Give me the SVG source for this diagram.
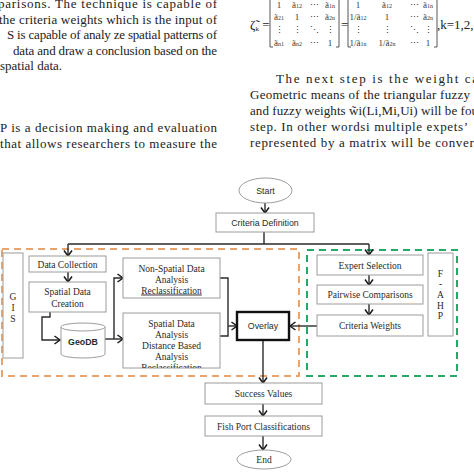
<svg xmlns="http://www.w3.org/2000/svg" width="474" height="474" viewBox="0 0 474 474">
<style>
.p{font-family:"Liberation Serif",serif;font-size:13px;fill:#222}
.m{font-family:"Liberation Serif",serif;font-size:9px;fill:#333;text-anchor:middle}
.sub{font-size:6px}
.br{fill:none;stroke:#444;stroke-width:0.9}
.box{fill:#fff;stroke:#9c9c9c;stroke-width:1}
.t{font-family:"Liberation Serif",serif;font-size:9.5px;fill:#2a2a2a;text-anchor:middle}
.s{font-family:"Liberation Sans",Arial,sans-serif;font-size:8.8px;fill:#2a2a2a;text-anchor:middle}
.conn{fill:none;stroke:#2b2b2b;stroke-width:1.4}
.og{fill:none;stroke:#eba36c;stroke-width:2;stroke-dasharray:7 5}
.gr{fill:none;stroke:#26a866;stroke-width:2;stroke-dasharray:7 5}
</style>
<defs>
<marker id="arr" markerUnits="userSpaceOnUse" markerWidth="12" markerHeight="12" refX="0" refY="0" viewBox="-7 -6 8 12" orient="auto">
<path d="M-5.5,-4 L0,0 L-5.5,4" fill="none" stroke="#1a1a1a" stroke-width="1.5"/>
</marker>
<clipPath id="clipSpatial"><rect x="123" y="313" width="97" height="55"/></clipPath>
</defs>
<rect width="474" height="474" fill="#fff"/>

<g id="paper-text">
<text class="p" x="-2" y="8" textLength="219" lengthAdjust="spacing">parisons. The technique is capable of</text>
<text class="p" x="-1" y="23.5" textLength="218" lengthAdjust="spacing">the criteria weights which is the input of</text>
<text class="p" x="7" y="39" textLength="210" lengthAdjust="spacing">S is capable of analy ze spatial patterns of</text>
<text class="p" x="13" y="54.5" textLength="204" lengthAdjust="spacing">data and draw a conclusion based on the</text>
<text class="p" x="0" y="70">spatial data.</text>
<text class="p" x="0" y="132" textLength="217" lengthAdjust="spacing">P is a decision making and evaluation</text>
<text class="p" x="0" y="147.5" textLength="217" lengthAdjust="spacing">that allows researchers to measure the</text>
<text class="p" x="276" y="83" textLength="202" lengthAdjust="spacing">The next step is the weight ca</text>
<text class="p" x="250" y="99" textLength="220" lengthAdjust="spacing">Geometric means of the triangular fuzzy</text>
<text class="p" x="250" y="115" textLength="228" lengthAdjust="spacing">and fuzzy weights w̃i(Li,Mi,Ui) will be fou</text>
<text class="p" x="250" y="131" textLength="218" lengthAdjust="spacing">step. In other wordsi multiple expets’</text>
<text class="p" x="250" y="147" textLength="228" lengthAdjust="spacing">represented by a matrix will be convert</text>
</g>

<g id="matrix">
<text class="p" x="250" y="29" font-size="11">ζ̃<tspan font-size="7" dy="2">k</tspan><tspan dy="-2"> =</tspan></text>
<path class="br" d="M273,-4 H270 V47 H273 M336,-4 H339 V47 H336"/>
<text class="m" x="279" y="8">1</text>
<text class="m" x="297" y="8">ã<tspan class="sub">12</tspan></text>
<text class="m" x="314" y="8">⋯</text>
<text class="m" x="330" y="8">ã<tspan class="sub">1n</tspan></text>
<text class="m" x="279" y="20">ã<tspan class="sub">21</tspan></text>
<text class="m" x="297" y="20">1</text>
<text class="m" x="314" y="20">⋯</text>
<text class="m" x="330" y="20">ã<tspan class="sub">2n</tspan></text>
<text class="m" x="279" y="33">⋮</text>
<text class="m" x="297" y="33">⋮</text>
<text class="m" x="314" y="33">⋱</text>
<text class="m" x="330" y="33">⋮</text>
<text class="m" x="279" y="46">ã<tspan class="sub">n1</tspan></text>
<text class="m" x="297" y="46">ã<tspan class="sub">n2</tspan></text>
<text class="m" x="314" y="46">⋯</text>
<text class="m" x="330" y="46">1</text>
<text class="p" x="341" y="29" font-size="11">=</text>
<path class="br" d="M351,-4 H348 V47 H351 M434,-4 H437 V47 H434" stroke="#4a5a80"/>
<text class="m" x="358" y="8">1</text>
<text class="m" x="387" y="8">ã<tspan class="sub">12</tspan></text>
<text class="m" x="414" y="8">⋯</text>
<text class="m" x="428" y="8">ã<tspan class="sub">1n</tspan></text>
<text class="m" x="358" y="20">1/ã<tspan class="sub">12</tspan></text>
<text class="m" x="387" y="20">1</text>
<text class="m" x="414" y="20">⋯</text>
<text class="m" x="428" y="20">ã<tspan class="sub">2n</tspan></text>
<text class="m" x="358" y="33">⋮</text>
<text class="m" x="387" y="33">⋮</text>
<text class="m" x="414" y="33">⋱</text>
<text class="m" x="428" y="33">⋮</text>
<text class="m" x="358" y="46">1/ã<tspan class="sub">1n</tspan></text>
<text class="m" x="387" y="46">1/ã<tspan class="sub">2n</tspan></text>
<text class="m" x="414" y="46">⋯</text>
<text class="m" x="428" y="46">1</text>
<text class="p" x="437" y="29" font-size="11">,k=1,2,..</text>
</g>

<g id="groups">
<rect id="gis-group" class="og" x="2" y="249" width="297" height="127"/>
<rect id="fahp-group" class="gr" x="307" y="250" width="150" height="126"/>
</g>

<g id="connectors">
<path class="conn" d="M265,203 V213" marker-end="url(#arr)"/>
<path class="conn" d="M264,232 V244 M68,244 H369"/>
<path class="conn" d="M68,244 V256" marker-end="url(#arr)"/>
<path class="conn" d="M369,244 V255" marker-end="url(#arr)"/>
<path class="conn" d="M68,272 V282" marker-end="url(#arr)"/>
<path class="conn" d="M50,312 V317 H42 V340 H60" marker-end="url(#arr)"/>
<path class="conn" d="M105,339 H123" marker-end="url(#arr)"/>
<path class="conn" d="M114,339 V278 H123" marker-end="url(#arr)"/>
<path class="conn" d="M220,278 H228 V336 H220"/>
<path class="conn" d="M228,326 H237" marker-end="url(#arr)"/>
<path class="conn" d="M317,326 H290" marker-end="url(#arr)"/>
<path class="conn" d="M263,340 V383" marker-end="url(#arr)"/>
<path class="conn" d="M369,275 V285" marker-end="url(#arr)"/>
<path class="conn" d="M369,304 V315" marker-end="url(#arr)"/>
<path class="conn" d="M263,404 V416" marker-end="url(#arr)"/>
<path class="conn" d="M263,436 V450" marker-end="url(#arr)"/>
</g>

<g id="start">
<ellipse class="box" cx="265.5" cy="190.5" rx="26.5" ry="12.5"/>
<text class="s" x="265.5" y="193.5" font-size="8.2">Start</text>
</g>
<g id="criteria-definition">
<rect class="box" x="216" y="213" width="98" height="19"/>
<text class="s" x="265" y="225.5" font-size="9.2">Criteria Definition</text>
</g>
<g id="gis-label">
<rect class="box" x="3" y="253" width="20" height="105"/>
<text class="t" x="13" y="299.5" font-size="10">G</text>
<text class="t" x="13" y="310.5" font-size="10">I</text>
<text class="t" x="13" y="321.5" font-size="10">S</text>
</g>
<g id="data-collection">
<rect class="box" x="29" y="256" width="77" height="16"/>
<text class="t" x="67.5" y="267.5">Data Collection</text>
</g>
<g id="spatial-data-creation">
<rect class="box" x="29" y="282" width="77" height="30"/>
<text class="t" x="67.5" y="295">Spatial Data</text>
<text class="t" x="67.5" y="306.5">Creation</text>
</g>
<g id="geodb">
<path class="box" d="M61,327 V354 A22,4 0 0 0 105,354 V327"/>
<ellipse class="box" cx="83" cy="327" rx="22" ry="4"/>
<text class="s" x="83" y="345" font-size="8.6" font-weight="bold" fill="#333">GeoDB</text>
</g>
<g id="non-spatial-analysis">
<rect class="box" x="123" y="258" width="97" height="40"/>
<text class="t" x="171.5" y="271.5">Non-Spatial Data</text>
<text class="t" x="171.5" y="282.5">Analysis</text>
<text class="t" x="171.5" y="293.5" text-decoration="underline">Reclassification</text>
</g>
<g id="spatial-analysis">
<rect class="box" x="123" y="313" width="97" height="55"/>
<g clip-path="url(#clipSpatial)">
<text class="t" x="171.5" y="326.5">Spatial Data</text>
<text class="t" x="171.5" y="337.5">Analysis</text>
<text class="t" x="171.5" y="348.5">Distance Based</text>
<text class="t" x="171.5" y="359.5">Analysis</text>
<text class="t" x="171.5" y="370.5">Reclassification</text>
</g>
</g>
<g id="overlay">
<rect x="237" y="312" width="52" height="28" fill="#fff" stroke="#111" stroke-width="2.4"/>
<text class="s" x="263" y="329" font-size="8.8">Overlay</text>
</g>
<g id="expert-selection">
<rect class="box" x="317" y="255" width="106" height="20"/>
<text class="t" x="370" y="268.5">Expert Selection</text>
</g>
<g id="pairwise-comparisons">
<rect class="box" x="317" y="285" width="106" height="19"/>
<text class="t" x="370" y="298">Pairwise Comparisons</text>
</g>
<g id="criteria-weights">
<rect class="box" x="317" y="315" width="106" height="21"/>
<text class="t" x="370" y="329">Criteria Weights</text>
</g>
<g id="fahp-label">
<rect class="box" x="428" y="253" width="25" height="83"/>
<text class="t" x="440.5" y="276.5" font-size="10">F</text>
<text class="t" x="440.5" y="286.5" font-size="10">-</text>
<text class="t" x="440.5" y="297.5" font-size="10">A</text>
<text class="t" x="440.5" y="308.5" font-size="10">H</text>
<text class="t" x="440.5" y="319" font-size="10">P</text>
</g>
<g id="success-values">
<rect class="box" x="205" y="383" width="117" height="21"/>
<text class="t" x="263.5" y="397">Success Values</text>
</g>
<g id="fish-port-classifications">
<rect class="box" x="205" y="416" width="117" height="20"/>
<text class="t" x="263.5" y="429.5">Fish Port Classifications</text>
</g>
<g id="end">
<ellipse class="box" cx="264" cy="459.5" rx="27" ry="9.5"/>
<text class="t" x="264" y="462.5">End</text>
</g>
</svg>
